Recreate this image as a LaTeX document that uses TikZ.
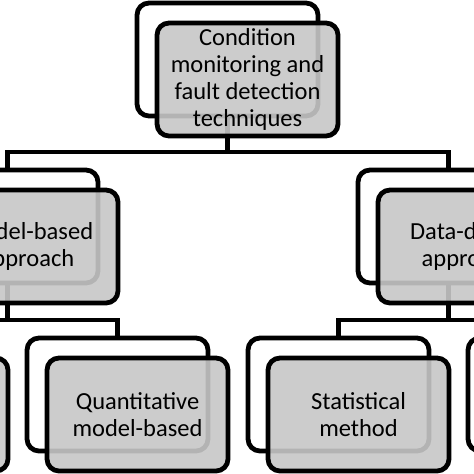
\documentclass[tikz,border=0pt]{standalone}
\usepackage{fontspec}
\setmainfont{Carlito}
\usetikzlibrary{positioning}

\begin{document}
\begin{tikzpicture}[x=1pt,y=-1pt,line width=4.8pt,
	back/.style={draw,rounded corners=12pt,fill=white,minimum width=181pt,minimum height=113pt,inner sep=0pt},
	front/.style={back,fill=black!22,fill opacity=0.9,text opacity=1,align=center,font=\fontsize{24.5}{27}\selectfont}]
\useasboundingbox (0,0) rectangle (474,474);

%vertices
\foreach \n/\x/\y in {0/227.5/59.5,1/7.5/226.5,2/448.5/226.5,3/-102.5/394.5,4/117.5/394.5,5/338.5/394.5,6/558.5/394.5}
	\node[back] (b\n) at (\x,\y) {};

%edges
\coordinate (j0) at (227.5,152);
\coordinate (j1) at (7.5,320);
\coordinate (j2) at (448.5,320);
\draw (b0.south) -- (j0);
\draw (b1.north) |- (j0) -| (b2.north);
\draw (b1.south) -- (j1);
\draw (b3.north) |- (j1) -| (b4.north);
\draw (b2.south) -- (j2);
\draw (b5.north) |- (j2) -| (b6.north);

%front boxes
\foreach \n/\t in {0/{Condition\\monitoring and\\fault detection\\techniques},1/{Model-based\\approach},2/{Data-driven\\approach},3/{},4/{Quantitative\\model-based},5/{Statistical\\method},6/{}}
	\node[front,xshift=20pt,yshift=-20pt] (f\n) at (b\n) {\t};
\end{tikzpicture}
\end{document}
